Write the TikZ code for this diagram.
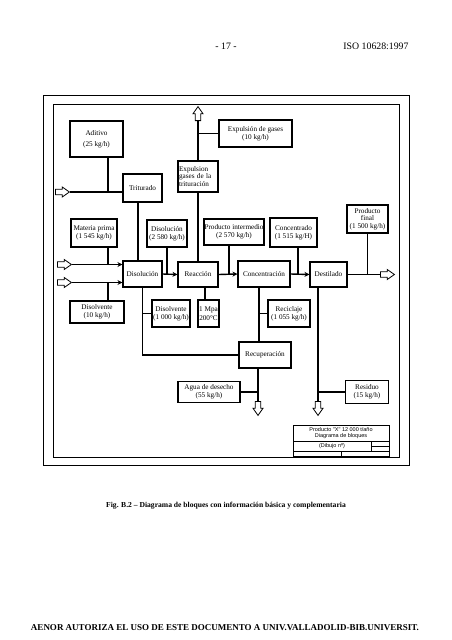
\documentclass[tikz,border=0pt]{standalone}
\usepackage{fontspec}
\setmainfont{Liberation Serif}
\newfontfamily\blocksans{Liberation Sans}
\usetikzlibrary{shapes.arrows, arrows.meta}

\newcommand{\boxfont}{\fontsize{7.2}{8.4}\selectfont}

\tikzset{
  box/.style={draw, line width=1.1pt, align=center, inner sep=0.5pt, font=\boxfont},
  flow/.style={line width=1.4pt},
  link/.style={line width=1.1pt},
  feed/.style={line width=0.7pt},
  hollow/.style={draw, fill=white, line width=0.8pt, shape=single arrow,
    minimum height=14pt, single arrow head extend=2.3pt, single arrow tip angle=70,
    inner sep=2.3pt, anchor=tail},
  tip/.style={-{Stealth[length=5pt,width=5pt]}},
}

\begin{document}
\begin{tikzpicture}[x=1pt, y=-1pt]
\useasboundingbox[fill=white] (0,0) rectangle (452,640);

% page header
\node[font=\fontsize{9.8}{11}\selectfont] (pagenum) at (226,46) {- 17 -};
\node[font=\fontsize{9.8}{11}\selectfont] (isoref) at (376,46) {ISO 10628:1997};

% frames
\draw[line width=0.8pt] (43,95) rectangle (409,465);
\draw[line width=0.8pt] (53,104) rectangle (399,457);

% blocks, upper part
\node[box, minimum width=53pt, minimum height=36pt] (aditivo) at (96.5,139) {Aditivo\\[3pt](25 kg/h)};
\node[box, minimum width=39pt, minimum height=28pt] (triturado) at (142.5,188) {Triturado};
\node[box, text width=38pt, align=left, inner xsep=1pt, minimum height=31pt,
      font=\fontsize{7.2}{7.9}\selectfont] (expTrit) at (198,176.5) {Expulsion\\gases de la\\trituración};
\node[box, minimum width=73pt, minimum height=27pt] (expGases) at (255.5,133.5) {Expulsión de gases\\(10 kg/h)};

\node[box, minimum width=46pt, minimum height=28pt] (materia) at (94,233) {Materia prima\\(1 545 kg/h)};
\node[box, minimum width=40pt, minimum height=27pt] (disol2580) at (167,233.5) {Disolución\\(2 580 kg/h)};
\node[box, minimum width=59pt, minimum height=26pt] (prodInt) at (234,232) {Producto intermedio\\(2 570 kg/h)};
\node[box, minimum width=47pt, minimum height=29pt] (concentrado) at (293.5,232.5) {Concentrado\\(1 515 kg/H)};
\node[box, minimum width=41pt, minimum height=28pt,
      font=\fontsize{7.2}{7.6}\selectfont] (prodFinal) at (367.5,219) {Producto\\final\\(1 500 kg/h)};

% main line
\node[box, minimum width=39pt, minimum height=26pt] (disolucion) at (142.5,274) {Disolución};
\node[box, minimum width=40pt, minimum height=25pt] (reaccion) at (198,274.5) {Reacción};
\node[box, minimum width=52pt, minimum height=26pt] (concentracion) at (264,274) {Concentración};
\node[box, minimum width=37pt, minimum height=25pt] (destilado) at (328.5,274.5) {Destilado};

% blocks, lower part
\node[box, minimum width=54pt, minimum height=22pt] (disolv10) at (97,312) {Disolvente\\(10 kg/h)};
\node[box, minimum width=38pt, minimum height=27pt] (disolv1000) at (171,313.5) {Disolvente\\(1 000 kg/h)};
\node[box, minimum width=21pt, minimum height=27pt] (mpa) at (208.5,313.5) {1 Mpa\\200°C};
\node[box, minimum width=42pt, minimum height=27pt] (reciclaje) at (289,313.5) {Reciclaje\\(1 055 kg/h)};
\node[box, minimum width=52pt, minimum height=26pt] (recuperacion) at (265,355) {Recuperación};
\node[box, minimum width=62pt, minimum height=21pt] (agua) at (209,392) {Agua de desecho\\(55 kg/h)};
\node[box, minimum width=43pt, minimum height=23pt] (residuo) at (367,392) {Residuo\\(15 kg/h)};

% open arrows in and out
\node[hollow] (inTrit) at (55,192) {};
\node[hollow] (inMat) at (57,264.5) {};
\node[hollow] (inDis) at (57,282.5) {};
\node[hollow, shape border rotate=90] (gasOut) at (198,121) {};
\node[hollow] (prodOut) at (380,274.5) {};
\node[hollow, shape border rotate=270] (aguaOut) at (258,401) {};
\node[hollow, shape border rotate=270] (residOut) at (318,401) {};

% columns for off-centre links
\coordinate (colA) at (108,0);
\coordinate (colC) at ([xshift=-5pt]concentracion.south);

% feeds
\draw[flow] (inTrit.tip) -- (inTrit.tip -| triturado.west);
\draw[link] (aditivo.south -| colA) -- (colA |- inTrit.tip);
\draw[link] ([xshift=-4.5pt]triturado.south) -- ([xshift=-4.5pt]triturado.south |- disolucion.north);
\draw[flow, tip] (inMat.tip) -- (inMat.tip -| disolucion.west);
\draw[link] (materia.south -| colA) -- (colA |- inMat.tip);
\draw[feed, tip] (inDis.tip) -- (inDis.tip -| disolucion.west);
\draw[link] (disolv10.north -| colA) -- (colA |- inDis.tip);

% gases up
\draw[link] (reaccion.north) -- (expTrit.south);
\draw[link] (expTrit.north) -- (gasOut.tail);
\draw[link] (expGases.west) -- (expGases.west -| gasOut.tail);

% main flow
\draw[flow, tip] (disolucion.east) -- (reaccion.west);
\draw[link] (disol2580.south) -- (disol2580.south |- disolucion.east);
\draw[flow, tip] (reaccion.east) -- (concentracion.west);
\draw[link] ([xshift=-5pt]prodInt.south) -- ([xshift=-5pt]prodInt.south |- reaccion.east);
\draw[flow, tip] (concentracion.east) -- (destilado.west);
\draw[link] ([xshift=4.5pt]concentrado.south) -- ([xshift=4.5pt]concentrado.south |- concentracion.east);
\draw[flow] (destilado.east) -- (prodOut.tail);
\draw[link] (prodFinal.south) -- (prodFinal.south |- prodOut.tail);

% recovery
\draw[link] (disolucion.south) |- (recuperacion.west);
\draw[link] (disolv1000.west) -- (disolv1000.west -| disolucion.south);
\draw[link] ([xshift=-3.5pt]mpa.north) -- ([xshift=-3.5pt]mpa.north |- reaccion.south);
\draw[link] (colC) -- (colC |- recuperacion.north);
\draw[link] (reciclaje.west) -- (reciclaje.west -| colC);
\draw[link] (recuperacion.south -| aguaOut.tail) -- (aguaOut.tail);
\draw[link] (agua.east) -- (agua.east -| aguaOut.tail);
\draw[link] (destilado.south -| residOut.tail) -- (residOut.tail);
\draw[link] (residuo.west) -- (residuo.west -| residOut.tail);

% title block
\draw[line width=0.6pt] (293,425) rectangle (389,456);
\draw[line width=0.5pt] (293,441) -- (389,441) (293,451) -- (389,451)
  (371,441) -- (371,451) (371,446) -- (389,446) (341,451) -- (341,456);
\node[font=\blocksans\fontsize{5.5}{6.6}\selectfont, align=center] (titletext) at (341,433) {Producto "X" 12 000 t/año\\Diagrama de bloques};
\node[font=\blocksans\fontsize{5.5}{6.6}\selectfont] (drawno) at (332,446) {(Dibujo nº)};

% caption and footer
\node[font=\bfseries\fontsize{7.6}{9}\selectfont] (caption) at (226,506) {Fig. B.2 -- Diagrama de bloques con información básica y complementaria};
\node[font=\bfseries\fontsize{9}{11}\selectfont] (footer) at (225,628) {AENOR AUTORIZA EL USO DE ESTE DOCUMENTO A UNIV.VALLADOLID-BIB.UNIVERSIT.};
\end{tikzpicture}
\end{document}
